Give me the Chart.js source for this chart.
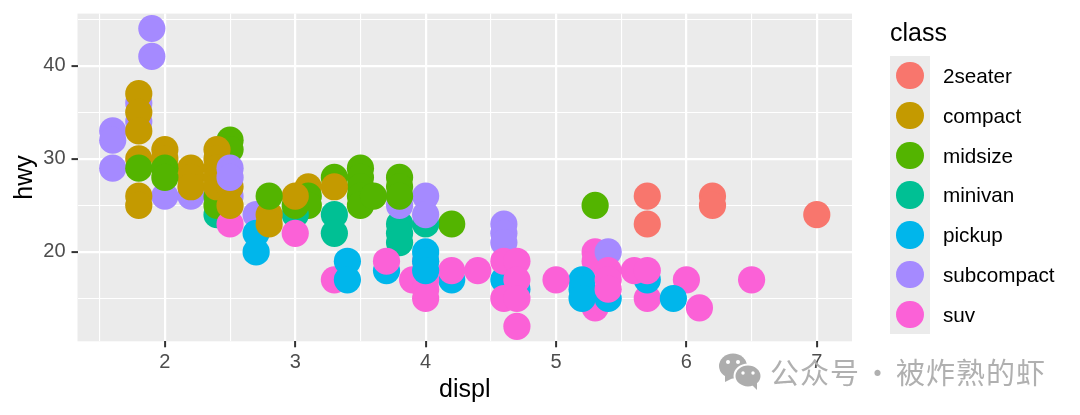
<!DOCTYPE html>
<html>
<head>
<meta charset="utf-8">
<script src="https://cdn.jsdelivr.net/npm/chart.js@4"></script>
<style>
  html, body { margin: 0; padding: 0; background: #fff; }
  #wrap { position: relative; width: 1080px; height: 415px; overflow: hidden; font-family: "Liberation Sans", Arial, sans-serif; }
  #grafico { position: absolute; left: 0; top: 0; }
  #legendTitle { position: absolute; left: 890px; top: 17px; font-size: 25px; line-height: 30px; color: #000; }
  #legendKeys { position: absolute; left: 890px; top: 56px; width: 40px; height: 278px; background: #ebebeb; }
  .punto { position: absolute; left: 6.3px; width: 27.4px; height: 27.4px; border-radius: 50%; }
  .etiqueta { position: absolute; left: 943px; font-size: 20.7px; line-height: 24px; color: #000; white-space: nowrap; }
  .marca { position: absolute; top: 352px; font-family: "Noto Sans CJK SC"; font-size: 29px; line-height: 38px; letter-spacing: 1px; color: #b0b0b0; white-space: nowrap; }
  #icono { position: absolute; left: 719px; top: 352px; }
</style>
</head>
<body>
<div id="wrap">
  <canvas id="grafico" width="1080" height="415"></canvas>
  <div id="legendTitle">class</div>
  <div id="legendKeys"></div>
  <svg id="icono" width="46" height="40" viewBox="0 0 46 40">
    <ellipse cx="14" cy="14" rx="14" ry="12.5" fill="#adadad"/>
    <path d="M6 23 L6 30 L14 26 Z" fill="#adadad"/>
    <ellipse cx="29" cy="24" rx="13.5" ry="11.5" fill="#adadad" stroke="#fff" stroke-width="2"/>
    <path d="M33 33 L38 38 L38 30 Z" fill="#adadad"/>
    <circle cx="9" cy="10" r="2" fill="#fff"/><circle cx="19" cy="10" r="2" fill="#fff"/>
    <circle cx="24" cy="21" r="1.7" fill="#fff"/><circle cx="34" cy="21" r="1.7" fill="#fff"/>
  </svg>
  <div class="marca" style="left:770px">公众号</div>
  <div class="marca" style="left:863px">·</div>
  <div class="marca" style="left:896px">被炸熟的虾</div>
</div>
<script>
const clases = ["2seater", "compact", "midsize", "minivan", "pickup", "subcompact", "suv"];
const colores = ["#F8766D", "#C49A00", "#53B400", "#00C094", "#00B6EB", "#A58AFF", "#FB61D7"];

const xTicks = [1.5, 2, 2.5, 3, 3.5, 4, 4.5, 5, 5.5, 6, 6.5, 7];
const yTicks = [15, 20, 25, 30, 35, 40, 45];

// pares [displ, hwy], cada lista en el orden en que se pinta (de abajo hacia arriba)
const compactPrimero = [[1.8, 30], [2, 31], [2, 30], [3.1, 27]];
const suvChevy = [[5.3, 20], [5.3, 19], [5.3, 15], [5.3, 14], [5.7, 15], [6, 17], [6.5, 17]];
const dosPlazas = [[5.7, 26], [5.7, 23], [6.2, 26], [6.2, 25], [7, 24]];
const midsizePrimero = [[4.2, 23], [3.1, 26], [3.1, 25]];
const minivan = [[2.4, 24], [3, 24], [3.3, 24], [3.3, 22], [3.8, 23], [3.8, 22], [3.8, 21], [4, 23]];
const pickupPrimero = [[3.7, 18], [4.2, 17], [4.6, 17], [4.7, 16], [5.2, 17], [5.2, 16], [5.2, 15], [5.4, 15], [5.7, 17], [5.9, 15]];
const subcompactPrimero = [[3.8, 25], [3.8, 26], [4, 26], [4, 24], [4.6, 23], [4.6, 22], [4.6, 21], [5.4, 20], [1.6, 33], [1.6, 32], [1.6, 29], [1.8, 36], [1.8, 34], [1.9, 44], [1.9, 41], [2, 26], [2.2, 26], [2.5, 26], [2.7, 24]];
const midsizeMedio = [[2.5, 32], [2.5, 31], [2.4, 26], [2.4, 25], [3, 25], [3.3, 28], [3.5, 29], [3.5, 28], [3.5, 27], [3.5, 26], [3.5, 25], [3.6, 26], [3.8, 28], [3.8, 27], [3.8, 26], [5.3, 25]];
const suvMedio = [[2.5, 23], [3, 22], [3.3, 17], [3.7, 19], [3.9, 17], [4, 19], [4, 18], [4, 17], [4, 16], [4, 15], [4.2, 18], [4.4, 18], [4.6, 19], [4.6, 15], [4.7, 19], [4.7, 17], [4.7, 15], [4.7, 12], [5, 17], [5.4, 18], [5.4, 17], [5.4, 16], [5.6, 18], [5.7, 18], [6.1, 14]];
const pickupUltimo = [[2.7, 22], [2.7, 20], [3.4, 19], [3.4, 17], [4, 20], [4, 19], [4, 18]];
const compactUltimo = [[1.8, 37], [1.8, 35], [1.8, 33], [1.8, 26], [1.8, 25], [2, 29], [2.2, 29], [2.2, 28], [2.2, 27], [2.4, 31], [2.4, 30], [2.4, 29], [2.4, 28], [2.4, 27], [2.5, 27], [2.5, 25], [2.8, 24], [2.8, 23], [3, 26], [3.3, 27]];
const midsizeUltimo = [[1.8, 29], [2, 29], [2, 28], [2.8, 26]];
const subcompactUltimo = [[2.5, 29], [2.5, 28]];

const capas = [
  [compactPrimero, "compact"],
  [suvChevy, "suv"],
  [dosPlazas, "2seater"],
  [midsizePrimero, "midsize"],
  [minivan, "minivan"],
  [pickupPrimero, "pickup"],
  [subcompactPrimero, "subcompact"],
  [midsizeMedio, "midsize"],
  [suvMedio, "suv"],
  [pickupUltimo, "pickup"],
  [compactUltimo, "compact"],
  [midsizeUltimo, "midsize"],
  [subcompactUltimo, "subcompact"]
];

const datasets = capas.map(([puntos, clase], i) => ({
  label: clase,
  data: puntos.map(p => ({ x: p[0], y: p[1] })),
  backgroundColor: colores[clases.indexOf(clase)],
  borderWidth: 0,
  pointRadius: 13.6,
  pointHoverRadius: 13.6,
  order: capas.length - i
}));

// fondo gris del panel
const fondoPanel = {
  id: "fondoPanel",
  beforeDraw(chart) {
    const a = chart.chartArea;
    chart.ctx.fillStyle = "#ebebeb";
    chart.ctx.fillRect(a.left, a.top, a.right - a.left, a.bottom - a.top);
  }
};

const mayorX = v => Number.isInteger(v);
const mayorY = v => v % 10 === 0;

function ejeOpciones(mayor, titulo, lista, relleno, tituloPad) {
  return {
    type: "linear",
    afterBuildTicks: ax => { ax.ticks = lista.map(v => ({ value: v })); },
    border: { display: false },
    grid: {
      color: "#ffffff",
      lineWidth: c => (mayor(c.tick.value) ? 2.2 : 1.1),
      drawTicks: true,
      tickLength: 6,
      tickWidth: 2,
      tickColor: c => (mayor(c.tick.value) ? "#333333" : "rgba(0,0,0,0)")
    },
    ticks: {
      autoSkip: false,
      maxRotation: 0,
      padding: relleno,
      color: "#4d4d4d",
      font: { family: "Liberation Sans", size: 20 },
      callback: v => (mayor(v) ? String(v) : "")
    },
    title: {
      display: true,
      text: titulo,
      color: "#000",
      padding: tituloPad,
      font: { family: "Liberation Sans", size: 25 }
    }
  };
}

const ejeX = ejeOpciones(mayorX, "displ", xTicks, 3, { top: 4, bottom: 10 });
ejeX.min = 1.33;
ejeX.max = 7.27;
ejeX.afterFit = ax => { ax.height = 73.7; ax.paddingLeft = 0; ax.paddingRight = 0; };

const ejeY = ejeOpciones(mayorY, "hwy", yTicks, 6, { top: 10, bottom: 4 });
ejeY.min = 10.4;
ejeY.max = 45.6;
ejeY.afterFit = ax => { ax.width = 77.5; ax.paddingTop = 0; ax.paddingBottom = 0; };

new Chart(document.getElementById("grafico"), {
  type: "scatter",
  data: { datasets: datasets },
  options: {
    responsive: false,
    animation: false,
    devicePixelRatio: 1,
    layout: { padding: { top: 12.3, right: 228, left: 0, bottom: 0 } },
    plugins: { legend: { display: false }, tooltip: { enabled: false } },
    scales: { x: ejeX, y: ejeY }
  },
  plugins: [fondoPanel]
});

// leyenda
const wrap = document.getElementById("wrap");
const keys = document.getElementById("legendKeys");
clases.forEach((c, i) => {
  const p = document.createElement("div");
  p.className = "punto";
  p.style.top = (6 + i * 39.8) + "px";
  p.style.background = colores[i];
  keys.appendChild(p);
  const t = document.createElement("div");
  t.className = "etiqueta";
  t.style.top = (64 + i * 39.8) + "px";
  t.textContent = c;
  wrap.appendChild(t);
});
</script>
</body>
</html>
